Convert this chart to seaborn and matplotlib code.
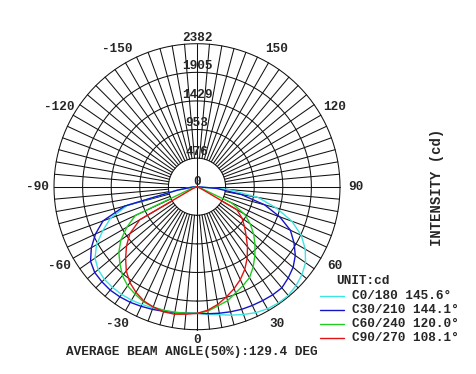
import numpy as np
import pandas as pd
import matplotlib
matplotlib.use('Agg')
import matplotlib.pyplot as plt
import seaborn as sns

# vertical angles (gamma) in degrees
gamma = [0, 5, 10, 15, 20, 25, 30, 35, 40, 45, 50, 55, 60, 65, 70, 75, 80, 85, 90]

# intensities (cd), one list per half-plane
c0 = [2110, 2132, 2165, 2215, 2265, 2315, 2349, 2365, 2365, 2332, 2282, 2207, 2082, 1916, 1682, 1366, 1033, 533, 0]
c180 = [2110, 2115, 2124, 2132, 2149, 2165, 2182, 2190, 2190, 2182, 2149, 2074, 1932, 1732, 1532, 1199, 333, 83, 0]
c30 = [2110, 2124, 2140, 2157, 2174, 2182, 2190, 2199, 2199, 2149, 2090, 1999, 1866, 1716, 1466, 1166, 750, 333, 0]
c210 = [2110, 2115, 2132, 2149, 2174, 2199, 2224, 2240, 2249, 2240, 2224, 2165, 2032, 1866, 1666, 1249, 333, 83, 0]
c60 = [2110, 2082, 2015, 1966, 1882, 1816, 1749, 1632, 1499, 1366, 1233, 1083, 916, 633, 50, 0, 0, 0, 0]
c240 = [2110, 2115, 2124, 2132, 2132, 2115, 2065, 2015, 1932, 1816, 1699, 1549, 1349, 1133, 133, 50, 0, 0, 0]
c90 = [2110, 2065, 1991, 1899, 1807, 1707, 1591, 1457, 1308, 1158, 1033, 916, 766, 67, 0, 0, 0, 0, 0]
c270 = [2110, 2132, 2157, 2157, 2132, 2099, 2032, 1949, 1832, 1682, 1532, 1366, 1099, 83, 0, 0, 0, 0, 0]

planes = ['C0/180', 'C30/210', 'C60/240', 'C90/270']
beam_angles = [145.6, 144.1, 120.0, 108.1]
colors = ['#3ee3e3', '#1414c8', '#22cc22', '#e01414']

r_ticks = [476, 953, 1429, 1905, 2382]
angle_labels = [0, 30, 60, 90, 120, 150, -150, -120, -90, -60, -30]
avg_beam = 129.4

# build long table: right half = C0.., left half = C180.. (negative angles)
rows = []
for name, right, left in zip(planes, [c0, c30, c60, c90], [c180, c210, c240, c270]):
    th = [-g for g in reversed(gamma[1:])] + gamma
    rr = list(reversed(left[1:])) + right
    for t, r in zip(th, rr):
        rows.append({'plane': name, 'theta': np.deg2rad(t), 'r': r})
df = pd.DataFrame(rows)

sns.set_theme(style='white')
plt.rcParams['font.family'] = ['Liberation Mono', 'DejaVu Sans']
plt.rcParams['font.weight'] = 'bold'

W, H = 476, 374
fig = plt.figure(figsize=(W / 100, H / 100), dpi=100)
cx, cy, R = 197, 186.7, 143
ax = fig.add_axes([(cx - R) / W, (H - cy - R) / H, 2 * R / W, 2 * R / H], projection='polar')
ax.set_theta_zero_location('S')
ax.set_theta_direction(1)
ax.grid(False)
ax.spines['polar'].set_visible(False)

rmax = r_ticks[-1]
gc = '#111111'
th_full = np.linspace(0, 2 * np.pi, 721)
for rt in r_ticks:
    ax.plot(th_full, np.full_like(th_full, rt), color=gc, lw=0.75, zorder=1, clip_on=False)
# spokes every 5 deg start at the first ring; the four axes go through the centre
for a in range(0, 360, 5):
    start = 0 if a % 90 == 0 else r_ticks[0]
    ax.plot([np.deg2rad(a)] * 2, [start, rmax], color=gc, lw=0.75, zorder=1, clip_on=False)

sns.lineplot(data=df, x='theta', y='r', hue='plane', palette=dict(zip(planes, colors)),
             sort=False, estimator=None, legend=False, lw=1.0, ax=ax, zorder=3)

ax.set_ylim(0, rmax)
ax.set_xticks([])
ax.set_yticks([])
ax.set_xlabel('')
ax.set_ylabel('')

fs = 9.2
for a in angle_labels:
    rl = 2550 if a == 0 else 2650
    ax.text(np.deg2rad(a), rl, str(a), ha='center', va='center', fontsize=fs, clip_on=False)
for rt in [0] + r_ticks:
    ax.text(np.pi, rt + (80 if rt == 0 else 100), str(rt), ha='center', va='center',
            fontsize=fs, clip_on=False, zorder=4)

def fx(x):
    return x / W

def fy(y):
    return 1 - y / H

fig.text(fx(336), fy(281), 'UNIT:cd', fontsize=fs, ha='left', va='center')
row_y = [296, 310, 324, 338]
for name, b, c, y in zip(planes, beam_angles, colors, row_y):
    fig.add_artist(plt.Line2D([fx(320), fx(344)], [fy(y), fy(y)], color=c, lw=1.0))
    fig.text(fx(352), fy(y), f'{name} {b:.1f}°', fontsize=fs, ha='left', va='center')

fig.text(fx(66), fy(352.5), f'AVERAGE BEAM ANGLE(50%):{avg_beam} DEG', fontsize=fs,
         ha='left', va='center')
fig.text(fx(437), fy(187), 'INTENSITY (cd)', fontsize=10, fontweight='bold',
         rotation=90, ha='center', va='center')

fig.savefig('out.png', dpi=100, facecolor='white')
